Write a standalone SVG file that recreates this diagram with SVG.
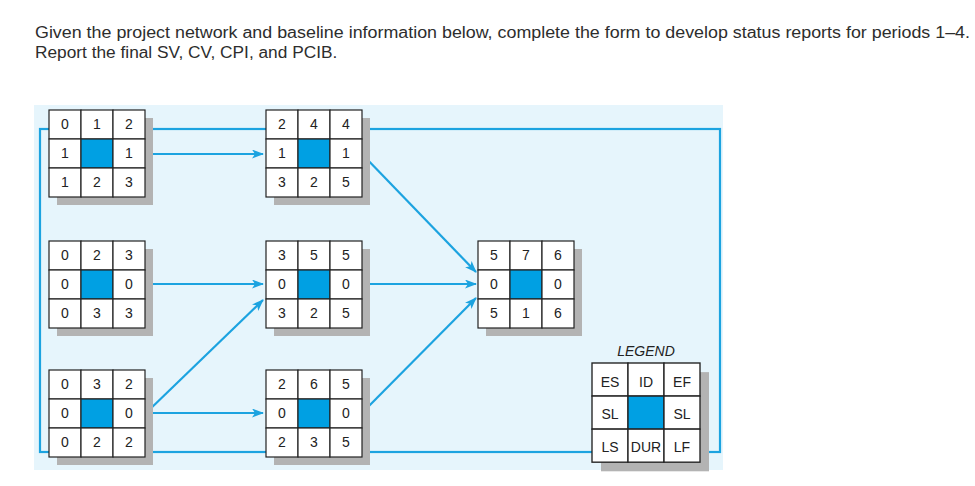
<svg xmlns="http://www.w3.org/2000/svg" width="975" height="486" viewBox="0 0 975 486">
<style>
.t{font-family:"Liberation Sans",Arial,sans-serif;font-size:17.3px;fill:#2d2d2d}
.n{font-family:"Liberation Sans",Arial,sans-serif;font-size:14px;fill:#222;text-anchor:middle}
.c{fill:#fff;stroke:#222;stroke-width:1.2}
.k{fill:#00a0e3;stroke:#222;stroke-width:1.2}
.sh{fill:#b3b3b3}
.ln{stroke:#1ca3e0;stroke-width:2.2;fill:none}
</style>
<defs>
<marker id="ar" markerWidth="12" markerHeight="9" refX="11" refY="4.5" orient="auto" markerUnits="userSpaceOnUse"><path d="M0,0 L12,4.5 L0,9 L3,4.5z" fill="#1ca3e0"/></marker>
<g id="box">
<rect class="sh" x="8" y="8" width="96" height="87"/>
<rect class="c" x="0" y="0" width="32" height="29"/><rect class="c" x="32" y="0" width="32" height="29"/><rect class="c" x="64" y="0" width="32" height="29"/>
<rect class="c" x="0" y="29" width="32" height="29"/><rect class="k" x="32" y="29" width="32" height="29"/><rect class="c" x="64" y="29" width="32" height="29"/>
<rect class="c" x="0" y="58" width="32" height="29"/><rect class="c" x="32" y="58" width="32" height="29"/><rect class="c" x="64" y="58" width="32" height="29"/>
</g>
</defs>
<rect width="975" height="486" fill="#fff"/>
<text class="t" x="35" y="38" textLength="935" lengthAdjust="spacingAndGlyphs">Given the project network and baseline information below, complete the form to develop status reports for periods 1–4.</text>
<text class="t" x="35" y="58">Report the final SV, CV, CPI, and PCIB.</text>
<rect x="34" y="105" width="689" height="365" fill="#e6f5fc"/>
<g id="connectors">
<rect class="ln" x="40" y="129" width="680" height="323"/>
<line class="ln" x1="146" y1="154" x2="263" y2="154" marker-end="url(#ar)"/>
<line class="ln" x1="146" y1="284" x2="263" y2="284" marker-end="url(#ar)"/>
<line class="ln" x1="146" y1="413" x2="263" y2="413" marker-end="url(#ar)"/>
<line class="ln" x1="146" y1="413" x2="263" y2="300" marker-end="url(#ar)"/>
<line class="ln" x1="362" y1="154" x2="476" y2="272" marker-end="url(#ar)"/>
<line class="ln" x1="362" y1="284" x2="476" y2="284" marker-end="url(#ar)"/>
<line class="ln" x1="362" y1="413" x2="476" y2="298" marker-end="url(#ar)"/>
</g>
<g id="n1" transform="translate(49,110)"><use href="#box"/><text class="n" x="16" y="19">0</text><text class="n" x="48" y="19">1</text><text class="n" x="80" y="19">2</text><text class="n" x="16" y="48">1</text><text class="n" x="80" y="48">1</text><text class="n" x="16" y="77">1</text><text class="n" x="48" y="77">2</text><text class="n" x="80" y="77">3</text></g>
<g id="n2" transform="translate(49,241)"><use href="#box"/><text class="n" x="16" y="19">0</text><text class="n" x="48" y="19">2</text><text class="n" x="80" y="19">3</text><text class="n" x="16" y="48">0</text><text class="n" x="80" y="48">0</text><text class="n" x="16" y="77">0</text><text class="n" x="48" y="77">3</text><text class="n" x="80" y="77">3</text></g>
<g id="n3" transform="translate(49,370)"><use href="#box"/><text class="n" x="16" y="19">0</text><text class="n" x="48" y="19">3</text><text class="n" x="80" y="19">2</text><text class="n" x="16" y="48">0</text><text class="n" x="80" y="48">0</text><text class="n" x="16" y="77">0</text><text class="n" x="48" y="77">2</text><text class="n" x="80" y="77">2</text></g>
<g id="n4" transform="translate(266,110)"><use href="#box"/><text class="n" x="16" y="19">2</text><text class="n" x="48" y="19">4</text><text class="n" x="80" y="19">4</text><text class="n" x="16" y="48">1</text><text class="n" x="80" y="48">1</text><text class="n" x="16" y="77">3</text><text class="n" x="48" y="77">2</text><text class="n" x="80" y="77">5</text></g>
<g id="n5" transform="translate(266,241)"><use href="#box"/><text class="n" x="16" y="19">3</text><text class="n" x="48" y="19">5</text><text class="n" x="80" y="19">5</text><text class="n" x="16" y="48">0</text><text class="n" x="80" y="48">0</text><text class="n" x="16" y="77">3</text><text class="n" x="48" y="77">2</text><text class="n" x="80" y="77">5</text></g>
<g id="n6" transform="translate(266,370)"><use href="#box"/><text class="n" x="16" y="19">2</text><text class="n" x="48" y="19">6</text><text class="n" x="80" y="19">5</text><text class="n" x="16" y="48">0</text><text class="n" x="80" y="48">0</text><text class="n" x="16" y="77">2</text><text class="n" x="48" y="77">3</text><text class="n" x="80" y="77">5</text></g>
<g id="n7" transform="translate(478,241)"><use href="#box"/><text class="n" x="16" y="19">5</text><text class="n" x="48" y="19">7</text><text class="n" x="80" y="19">6</text><text class="n" x="16" y="48">0</text><text class="n" x="80" y="48">0</text><text class="n" x="16" y="77">5</text><text class="n" x="48" y="77">1</text><text class="n" x="80" y="77">6</text></g>
<g id="legend">
<text class="n" x="646" y="356" font-style="italic">LEGEND</text>
<g transform="translate(592,363) scale(1.125,1.14)"><use href="#box"/></g>
<text class="n" x="610" y="387">ES</text><text class="n" x="646" y="387">ID</text><text class="n" x="682" y="387">EF</text>
<text class="n" x="610" y="419">SL</text><text class="n" x="682" y="419">SL</text>
<text class="n" x="610" y="452">LS</text><text class="n" x="646" y="452">DUR</text><text class="n" x="682" y="452">LF</text>
</g>
</svg>
